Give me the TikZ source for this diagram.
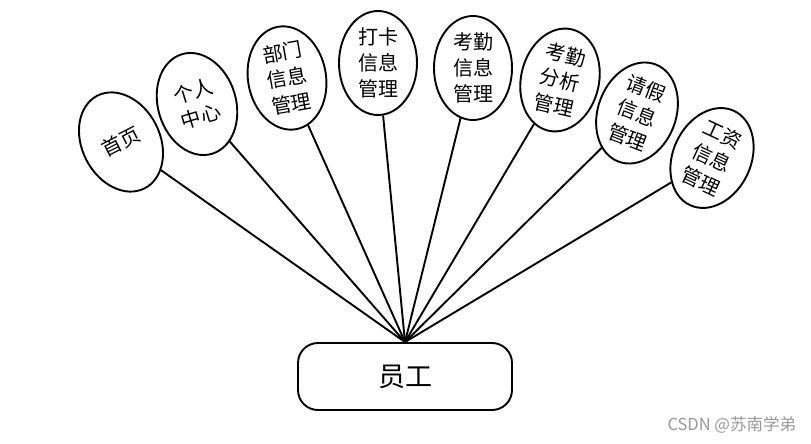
\documentclass[tikz,border=0pt]{standalone}
\usepackage{fontspec}
\newfontfamily\cjk{Noto Sans CJK SC}
\usetikzlibrary{shapes.geometric}
\begin{document}
\begin{tikzpicture}[x=1pt,y=-1pt,line width=1.9pt,
  oval/.style={ellipse,draw,minimum width=78pt,minimum height=104pt,inner sep=0pt,align=center,
    font=\cjk\fontsize{20}{26}\selectfont},
  link/.style={line width=1.9pt},
  rootbox/.style={draw,rounded corners=20pt,minimum width=214pt,minimum height=67pt,
    font=\cjk\fontsize{27}{30}\selectfont}]
\useasboundingbox (0,0) rectangle (811,444);
\node[rootbox] (emp) at (405,376.5) {员工};
\node[oval,rotate=27] (e1) at (121,142) {首页};
\node[oval,rotate=17] (e2) at (197,104) {个人\\中心};
\node[oval,rotate=10] (e3) at (287,78) {部门\\信息\\管理};
\node[oval] (e4) at (378,63) {打卡\\信息\\管理};
\node[oval] (e5) at (473,68) {考勤\\信息\\管理};
\node[oval,rotate=-13] (e6) at (560,80) {考勤\\分析\\管理};
\node[oval,rotate=-21] (e7) at (637,113) {请假\\信息\\管理};
\node[oval,rotate=-25] (e8) at (712,158) {工资\\信息\\管理};
\foreach \e in {e1,e2,e3,e4,e5,e6,e7,e8}
  \draw[link] (\e) -- (emp.north);
\node[text=gray!80,font=\cjk\fontsize{16.5}{17}\selectfont,anchor=east,inner sep=0pt] (wm) at (797,425) {CSDN @苏南学弟};
\end{tikzpicture}
\end{document}
